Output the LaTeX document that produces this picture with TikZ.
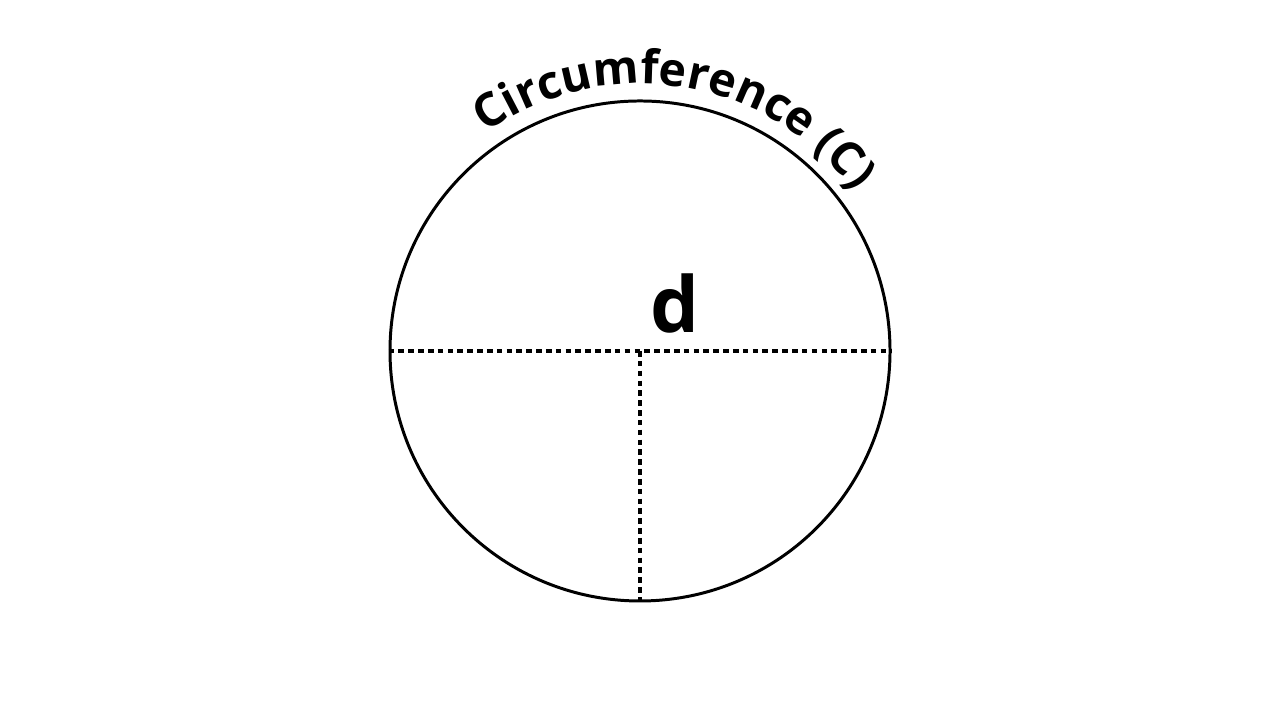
\documentclass[tikz,border=0pt]{standalone}
\usepackage{fontspec}
\setmainfont{Open Sans}
\usetikzlibrary{decorations.text}

\tikzset{
  rim/.style={circle,draw=black,line width=0.85pt,minimum size=5cm,inner sep=0pt},
  dots/.style={line width=0.9pt,dash pattern=on 1.6pt off 1.2pt}
}

\begin{document}
\begin{tikzpicture}

\useasboundingbox (0,0) rectangle (12.8,7.2) ;

\coordinate (ctr) at (6.4,3.69) ;
\node[rim] (circ) at (ctr) {} ;

% diameter and radius
\draw[dots] (circ.west) -- (circ.east) ;
\draw[dots] (circ.center) -- (circ.south) ;

\node[anchor=base,inner sep=0pt,font=\fontsize{22}{22}\selectfont\bfseries]
  (dlabel) at ([shift={(0.35,0.18)}]ctr) {d} ;

% label along the rim
\path[decorate,decoration={text along path,text align=center,
  text={|\fontsize{13.2}{13.2}\selectfont\bfseries|Circumference (C)}}]
  ([shift={(130:2.67)}]ctr) arc[start angle=130,end angle=32,radius=2.67] ;

\end{tikzpicture}
\end{document}
